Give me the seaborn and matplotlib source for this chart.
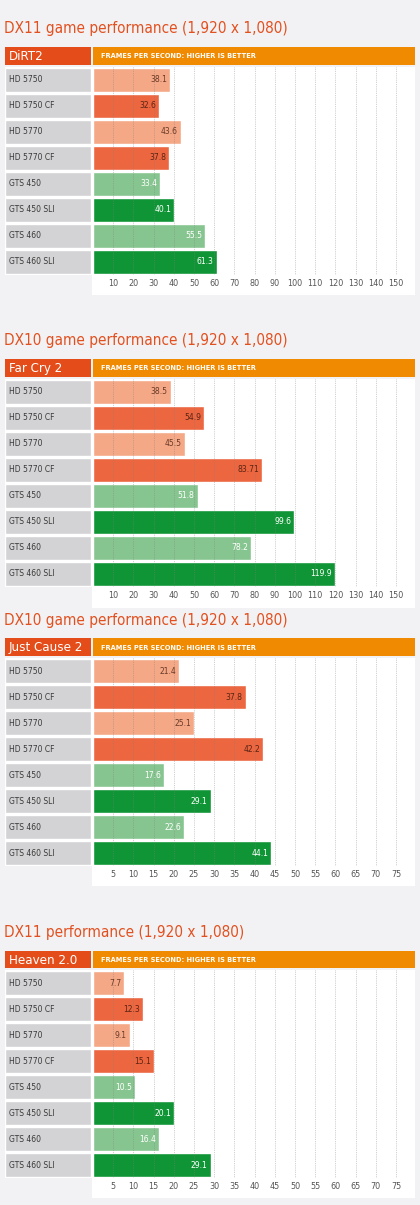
import matplotlib
matplotlib.use("Agg")
import matplotlib.pyplot as plt
import matplotlib.font_manager as fm
from matplotlib.patches import Rectangle
import seaborn as sns
import pandas as pd

# ---------------- data ----------------
cards = ["HD 5750", "HD 5750 CF", "HD 5770", "HD 5770 CF",
         "GTS 450", "GTS 450 SLI", "GTS 460", "GTS 460 SLI"]

titles = ["DX11 game performance (1,920 x 1,080)",
          "DX10 game performance (1,920 x 1,080)",
          "DX10 game performance (1,920 x 1,080)",
          "DX11 performance (1,920 x 1,080)"]
games = ["DiRT2", "Far Cry 2", "Just Cause 2", "Heaven 2.0"]
subtitle = "FRAMES PER SECOND: HIGHER IS BETTER"

dirt2 = [38.1, 32.6, 43.6, 37.8, 33.4, 40.1, 55.5, 61.3]
farcry2 = [38.5, 54.9, 45.5, 83.71, 51.8, 99.6, 78.2, 119.9]
justcause2 = [21.4, 37.8, 25.1, 42.2, 17.6, 29.1, 22.6, 44.1]
heaven2 = [7.7, 12.3, 9.1, 15.1, 10.5, 20.1, 16.4, 29.1]
value_labels = [
    ["38.1", "32.6", "43.6", "37.8", "33.4", "40.1", "55.5", "61.3"],
    ["38.5", "54.9", "45.5", "83.71", "51.8", "99.6", "78.2", "119.9"],
    ["21.4", "37.8", "25.1", "42.2", "17.6", "29.1", "22.6", "44.1"],
    ["7.7", "12.3", "9.1", "15.1", "10.5", "20.1", "16.4", "29.1"],
]
ticks_wide = list(range(10, 151, 10))
ticks_narrow = list(range(5, 76, 5))

series = [dirt2, farcry2, justcause2, heaven2]
tick_sets = [ticks_wide, ticks_wide, ticks_narrow, ticks_narrow]

# ---------------- style ----------------
sns.set_theme(style="white")
names = {f.name for f in fm.fontManager.ttflist}
cond_dejavu = any(f.name == "DejaVu Sans" and str(f.stretch) in ("condensed", "semi-condensed", "500", "375")
                  for f in fm.fontManager.ttflist)
if "Liberation Sans Narrow" in names:
    FONT = dict(family="Liberation Sans Narrow")
elif cond_dejavu:
    FONT = dict(family="DejaVu Sans", stretch="condensed")
else:
    FONT = dict(family="Roboto")
plt.rcParams["font.family"] = [FONT["family"], "DejaVu Sans"]
EXTRA = {"fontstretch": FONT["stretch"]} if "stretch" in FONT else {}

W, H = 420, 1205
BG = "#f2f2f4"
TITLE_C = "#e2501f"
HEAD_RED = "#e44d1a"
HEAD_ORANGE = "#f08a00"
LABEL_GRAY = "#d3d3d5"
palette = {
    "HD 5750": "#f4a886", "HD 5750 CF": "#ec6640",
    "HD 5770": "#f4a886", "HD 5770 CF": "#ec6640",
    "GTS 450": "#86c58f", "GTS 450 SLI": "#0f9535",
    "GTS 460": "#86c58f", "GTS 460 SLI": "#0f9535",
}
text_on_bar = {
    "HD 5750": "#6a3a28", "HD 5750 CF": "#5a2414",
    "HD 5770": "#6a3a28", "HD 5770 CF": "#5a2414",
    "GTS 450": "white", "GTS 450 SLI": "white",
    "GTS 460": "white", "GTS 460 SLI": "white",
}

# layout in pixels: title centre y, header top/bottom, rows top/bottom, white bottom, px per unit
layout = [
    dict(ty=29, ht=47, hb=65, rt=67, rb=275, wb=295, ppu=2.02),
    dict(ty=341, ht=359, hb=377, rt=379, rb=587, wb=608, ppu=2.02),
    dict(ty=621, ht=638, hb=656, rt=658, rb=866, wb=886, ppu=4.04),
    dict(ty=933, ht=951, hb=968, rt=970, rb=1178, wb=1198, ppu=4.04),
]

fig = plt.figure(figsize=(W / 100, H / 100), dpi=100)
fig.patch.set_facecolor(BG)


def box(x0, y0, x1, y1, color, z=-1):
    fig.add_artist(Rectangle((x0 / W, 1 - y1 / H), (x1 - x0) / W, (y1 - y0) / H,
                             transform=fig.transFigure, facecolor=color,
                             edgecolor="none", zorder=z))


def ftext(x, y, s, **kw):
    kw.setdefault("fontfamily", FONT["family"])
    kw.update(EXTRA)
    fig.text(x / W, 1 - y / H, s, **kw)


BAR_X0, BAR_X1 = 93, 415
LAB_X0, LAB_X1 = 5, 91

for i, L in enumerate(layout):
    vals = series[i]
    ticks = tick_sets[i]
    df = pd.DataFrame({"card": cards, "fps": vals})

    # title
    ftext(4, L["ty"], titles[i], fontsize=11, color=TITLE_C, va="center", ha="left")
    # header boxes
    box(LAB_X0, L["ht"], LAB_X1, L["hb"], HEAD_RED)
    box(BAR_X0, L["ht"], BAR_X1, L["hb"], HEAD_ORANGE)
    ftext(9, (L["ht"] + L["hb"]) / 2 + 0.5, games[i], fontsize=9.5, color="white",
          va="center", ha="left")
    ftext(101, (L["ht"] + L["hb"]) / 2 + 0.5, subtitle, fontsize=5.3, color="white",
          va="center", ha="left", fontweight="bold")
    # white background behind chart region
    box(LAB_X0, L["rt"], BAR_X1, L["rb"], "white")
    box(BAR_X0 - 1, L["rb"], BAR_X1, L["wb"], "white")

    # label column
    lax = fig.add_axes([LAB_X0 / W, 1 - L["rb"] / H, (LAB_X1 - LAB_X0) / W,
                        (L["rb"] - L["rt"]) / H])
    lax.set_facecolor("white")
    lax.barh(range(len(cards)), [1] * len(cards), height=0.9, color=LABEL_GRAY)
    lax.set_xlim(0, 1)
    lax.set_ylim(len(cards) - 0.5, -0.5)
    for j, c in enumerate(cards):
        lax.text(0.045, j, c, va="center", ha="left", fontsize=6.1, color="#3a3a3a",
                 fontfamily=FONT["family"], **EXTRA)
    lax.set_xticks([])
    lax.set_yticks([])
    for s in lax.spines.values():
        s.set_visible(False)

    # bars
    ax = fig.add_axes([BAR_X0 / W, 1 - L["rb"] / H, (BAR_X1 - BAR_X0) / W,
                       (L["rb"] - L["rt"]) / H])
    ax.set_facecolor("white")
    sns.barplot(data=df, x="fps", y="card", hue="card", palette=palette,
                orient="h", width=0.9, legend=False, ax=ax, saturation=1, zorder=2)
    ax.set_xlim(0, (BAR_X1 - BAR_X0) / L["ppu"])
    ax.set_ylim(len(cards) - 0.5, -0.5)
    ax.set_xticks(ticks)
    ax.set_xticklabels([str(t) for t in ticks])
    ax.tick_params(axis="x", length=0, pad=3.2, labelsize=6.5, labelcolor="#555555")
    for lbl in ax.get_xticklabels():
        lbl.set_fontfamily(FONT["family"])
        if "stretch" in FONT:
            lbl.set_fontstretch(FONT["stretch"])
    ax.set_yticks([])
    ax.set_xlabel("")
    ax.set_ylabel("")
    for s in ax.spines.values():
        s.set_visible(False)
    for t in ticks:
        ax.axvline(t, color="#808080", lw=0.6, ls=(0, (1, 1.2)), alpha=0.5, zorder=3)
    # value labels
    off = 3 / L["ppu"]
    for j, (c, v) in enumerate(zip(cards, vals)):
        ax.text(v - off, j, value_labels[i][j], va="center", ha="right", fontsize=6.1,
                color=text_on_bar[c], zorder=4, fontfamily=FONT["family"], **EXTRA)

fig.savefig("out.png", dpi=100, facecolor=BG)
